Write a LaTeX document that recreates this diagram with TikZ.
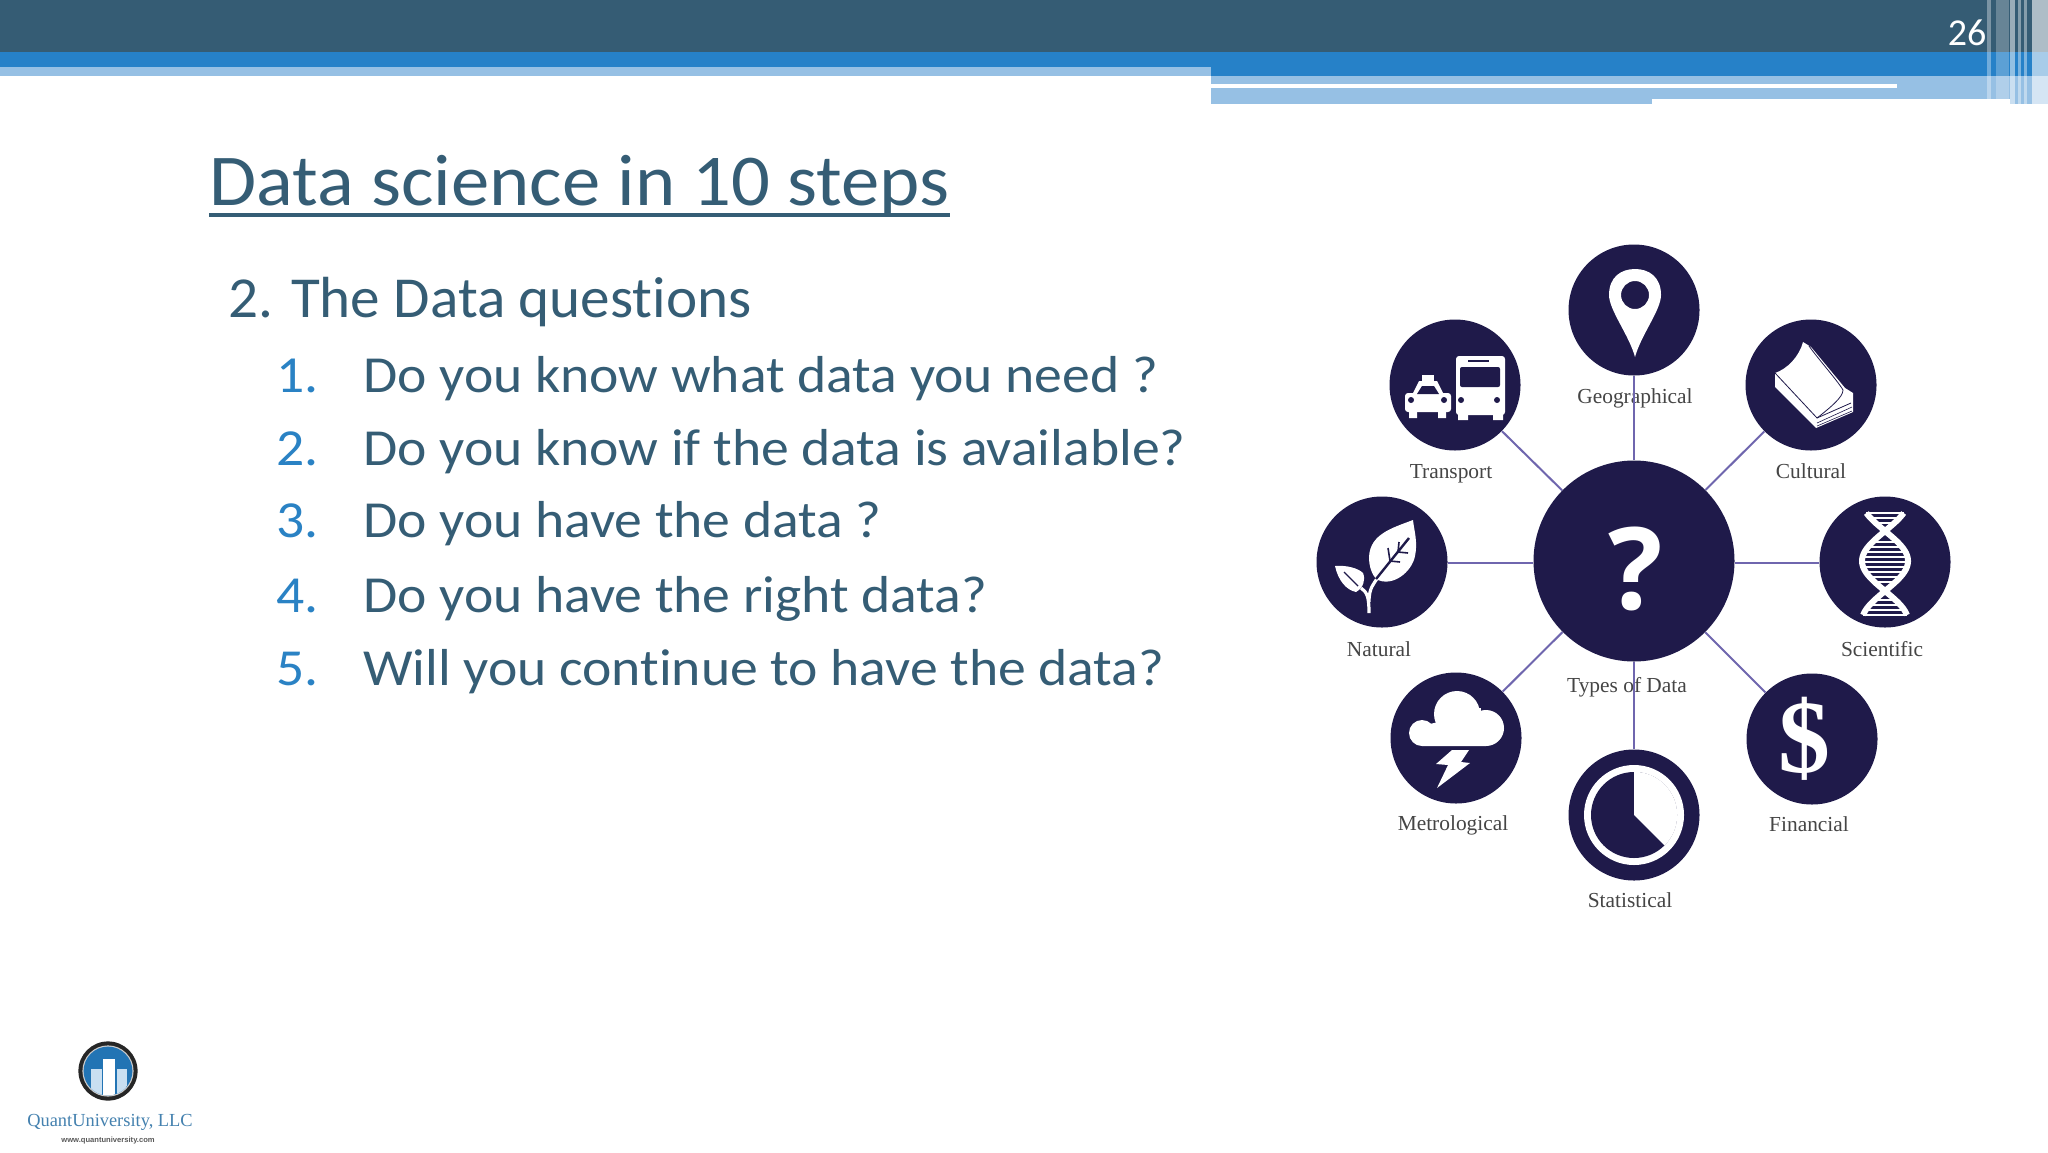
\documentclass[tikz,border=0pt]{standalone}
\usepackage{fontspec}
\setmainfont[Ligatures=NoCommon]{Carlito}
\newfontfamily\titlefont[Ligatures=NoCommon,FakeStretch=1.05]{Carlito}
\newfontfamily\headfont[Ligatures=NoCommon,FakeStretch=1.02]{Carlito}
\newfontfamily\itemfont[Ligatures=NoCommon,FakeStretch=1.07]{Carlito}
\newfontfamily\tnr{Liberation Serif}
\newfontfamily\lsans{Liberation Sans}
\definecolor{hdrdark}{HTML}{355C74}
\definecolor{hdrblue}{HTML}{2681C8}
\definecolor{hdrlight}{HTML}{96C0E4}
\definecolor{slatetxt}{HTML}{355D75}
\definecolor{numblue}{HTML}{2A82C4}
\definecolor{navy}{HTML}{1F1A4A}
\definecolor{spoke}{HTML}{6F66AE}
\definecolor{lblgray}{HTML}{454545}
\tikzset{
  x=0.5pt,y=-0.5pt,
  hub/.style={circle,fill=navy,inner sep=0pt,minimum size=100.5pt},
  sat/.style={circle,fill=navy,inner sep=0pt,minimum size=65.5pt},
  lbl/.style={font=\tnr\fontsize{10.7pt}{12pt}\selectfont,text=lblgray,inner sep=0pt},
  spokeline/.style={draw=spoke,line width=1pt},
  titletxt/.style={anchor=base west,inner sep=0pt,text=slatetxt,font=\titlefont\fontsize{36.5pt}{40pt}\selectfont},
  headtxt/.style={anchor=base west,inner sep=0pt,text=slatetxt,font=\headfont\fontsize{29pt}{32pt}\selectfont},
  itemtxt/.style={anchor=base west,inner sep=0pt,text=slatetxt,font=\itemfont\fontsize{26pt}{30pt}\selectfont},
  itemnum/.style={anchor=base west,inner sep=0pt,text=numblue,font=\itemfont\fontsize{26pt}{30pt}\selectfont},
  strip/.style={fill=white,fill opacity=#1,draw=none},
}
\begin{document}
\begin{tikzpicture}
\useasboundingbox (0,0) rectangle (2048,1152);
\fill[white] (0,0) rectangle (2048,1152);
% header bands
\fill[hdrlight] (1211,76) rectangle (2048,104);
\fill[hdrlight] (0,67) rectangle (1211,76);
\fill[hdrblue] (0,52) rectangle (1211,67);
\fill[hdrblue] (1211,52) rectangle (2048,76);
\fill[hdrdark] (0,0) rectangle (2048,52);
\fill[white] (1211,84) rectangle (1897,88);
\fill[white] (1652,99) rectangle (2010,104);
\fill[strip=0.35] (1987,0) rectangle (1991,104);
\fill[strip=0.25] (1996,0) rectangle (2009,104);
\fill[strip=0.5] (2010,0) rectangle (2015,104);
\fill[strip=0.4] (2018,0) rectangle (2021,104);
\fill[strip=0.4] (2024,0) rectangle (2027,104);
\fill[strip=0.6] (2032,0) rectangle (2048,104);
\node[inner sep=0pt,text=white,font=\fontsize{19pt}{22pt}\selectfont] (pagenum) at (1967,33) {26};
% text
\node[titletxt] (title) at (209,205) {Data science in 10 steps};
\draw[slatetxt,line width=2pt] ([yshift=-5pt]title.base west) -- ([yshift=-5pt]title.base east);
\node[headtxt] (head) at (228,317) {2. The Data questions};
\node[itemnum] (n1) at (276,392) {1.};
\node[itemtxt] (t1) at (363,392) {Do you know what data you need ?};
\node[itemnum] (n2) at (276,465) {2.};
\node[itemtxt] (t2) at (363,465) {Do you know if the data is available?};
\node[itemnum] (n3) at (276,537) {3.};
\node[itemtxt] (t3) at (363,537) {Do you have the data ?};
\node[itemnum] (n4) at (276,612) {4.};
\node[itemtxt] (t4) at (363,612) {Do you have the right data?};
\node[itemnum] (n5) at (276,685) {5.};
\node[itemtxt] (t5) at (363,685) {Will you continue to have the data?};
% wheel
\node[hub] (types) at (1634,561) {};
\node[sat] (geo) at (1634,310) {};
\node[sat] (trans) at (1455,385) {};
\node[sat] (cult) at (1811,385) {};
\node[sat] (nat) at (1382,562) {};
\node[sat] (sci) at (1885,562) {};
\node[sat] (met) at (1456,738) {};
\node[sat] (fin) at (1812,739) {};
\node[sat] (stat) at (1634,815) {};
% labels
\node[lbl] (lgeo) at (1635,398) {Geographical};
\node[lbl] (ltrans) at (1451,474) {Transport};
\node[lbl] (lcult) at (1811,471) {Cultural};
\node[lbl] (lnat) at (1379,649) {Natural};
\node[lbl] (lsci) at (1882,649) {Scientific};
\node[lbl] (ltypes) at (1627,687) {Types of Data};
\node[lbl] (lmet) at (1453,825) {Metrological};
\node[lbl] (lfin) at (1809,824) {Financial};
\node[lbl] (lstat) at (1630,900) {Statistical};
% connectors
\foreach \s in {geo,trans,cult,met,fin,stat}
  \draw[spokeline] (types) -- (\s);
\draw[spokeline] ([yshift=-1.2pt]types.west) -- ([yshift=-0.7pt]nat.east);
\draw[spokeline] ([yshift=-1.2pt]types.east) -- ([yshift=-0.7pt]sci.west);
% question mark
\node[inner sep=0pt,text=white,font=\fontspec{Open Sans Bold}\fontsize{57pt}{57pt}\selectfont] (qm) at (1636,569) {?};
% pin
\begin{scope}[shift={(1635,310)}]
\fill[white,even odd rule] (0,47) .. controls (-6,25) and (-26,0) .. (-26,-15)
  .. controls (-26,-33) and (-14,-41) .. (0,-41)
  .. controls (14,-41) and (26,-33) .. (26,-15)
  .. controls (26,0) and (6,25) .. (0,47) -- cycle
  (0,-15) circle (7pt);
\end{scope}
% taxi and bus
\begin{scope}[shift={(1455,385)}]
\fill[white,rounded corners=1.5pt] (1,-29) rectangle (50,30);
\fill[white] (3,26) rectangle (13,35) (38,26) rectangle (48,35);
\fill[navy,rounded corners=1pt] (5,-18) rectangle (45,2);
\fill[navy] (13,-25) rectangle (34,-23);
\fill[navy] (6,15) circle (1.5pt) (42,15) circle (1.5pt);
\fill[white,rounded corners=1.5pt] (-50,8) rectangle (-4,27);
\fill[white] (-43,10) -- (-36,-4) -- (-18,-4) -- (-11,10) -- cycle;
\fill[white] (-33,-10) rectangle (-21,-3);
\fill[white] (-46,25) rectangle (-38,33) (-17,25) rectangle (-9,33);
\fill[navy] (-38,9) -- (-33,1) -- (-21,1) -- (-16,9) -- cycle;
\fill[navy] (-44,15) circle (1.5pt) (-11,15) circle (1.5pt);
\end{scope}
% book
\begin{scope}[shift={(1811,385)}]
\fill[white] (-36,-12) .. controls (-24,-16) and (-12,-28) .. (-8,-43)
  -- (0,-38) -- (34,3) -- (42,8) -- (42,27) -- (5,43) -- (-36,2) -- cycle;
\draw[navy,line width=0.4pt] (-36,-12) -- (6,33) -- (40,18);
\draw[navy,line width=0.4pt] (-2,-39) .. controls (8,-25) and (26,-5) .. (32,5) .. controls (32,12) and (20,22) .. (6,33);
\draw[navy,line width=0.3pt] (6,38) -- (41,22) (6,41) -- (41,26);
\end{scope}
% leaf
\begin{scope}[shift={(1382,562)}]
\fill[white] (31,-42) .. controls (10,-34) and (-12,-28) .. (-13,-5)
  .. controls (-13,5) and (-10,12) .. (-6,17)
  .. controls (10,26) and (30,10) .. (33,-6)
  .. controls (36,-20) and (32,-32) .. (31,-42) -- cycle;
\fill[white] (-47,4) .. controls (-36,3) and (-24,6) .. (-19,11)
  .. controls (-16,18) and (-19,26) .. (-26,30)
  .. controls (-36,28) and (-44,18) .. (-47,4) -- cycle;
\draw[white,line width=1.6pt] (-13,51) .. controls (-13,35) and (-15,30) .. (-21,26);
\draw[white,line width=1.6pt] (-13,40) .. controls (-13,25) and (-8,22) .. (-4,15);
\draw[navy,line width=1.2pt] (-6,17) -- (27,-24);
\draw[navy,line width=0.8pt] (8,-1) -- (6,-14) (16,-10) -- (17,-20) (8,-1) -- (18,0) (16,-10) -- (26,-9);
\draw[navy,line width=0.7pt] (-24,24) -- (-38,10);
\end{scope}
% dna
\begin{scope}[shift={(1885,562)}]
\draw[white,line width=3pt,domain=-49:53,samples=60,smooth] plot ({23*cos(3*(\x+1))},\x);
\draw[white,line width=3pt,domain=-49:53,samples=60,smooth] plot ({-23*cos(3*(\x+1))},\x);
\foreach \yy in {-49,-44,-39,-20,-15,-10,-5,0,5,10,15,20,38,43,48,53}
  \draw[white,line width=1pt] ({-23*cos(3*(\yy+1))},\yy) -- ({23*cos(3*(\yy+1))},\yy);
\end{scope}
% cloud and lightning
\begin{scope}[shift={(1456,738)}]
\fill[white] (1,-24) circle (11.5pt) (-34,-5) circle (6.5pt) (30,-10) circle (9pt);
\fill[white] (-34,-12) -- (30,-28) -- (30,8) -- (-34,8) -- cycle;
\fill[white] (-20,-30) rectangle (25,8);
\fill[white] (-4,12) -- (13,12) -- (5,24) -- (14,25) -- (-19,50) -- (-8,27) -- (-20,26) -- cycle;
\end{scope}
% dollar
\node[inner sep=0pt,text=white,font=\tnr\bfseries\fontsize{52pt}{52pt}\selectfont] (dollar) at (1804,739) {\$};
% clock
\begin{scope}[shift={(1634,815)}]
\fill[white] (0,0) circle (25pt);
\fill[navy] (0,0) circle (21.5pt);
\begin{scope}
\clip (0,0) circle (21.6pt);
\fill[white] (0,0) -- (0,-60) -- (60,-60) -- (60,60) -- cycle;
\end{scope}
\end{scope}
% logo
\fill[black!85] (108,1071) circle (14.8pt);
\fill[white!80!black] (108,1071) circle (12.8pt);
\fill[hdrblue!90!black] (108,1071) circle (12.2pt);
\begin{scope}
\clip (108,1071) circle (12.2pt);
\fill[white!75!hdrblue] (91,1069) rectangle (102,1100);
\fill[white] (103,1059) rectangle (115,1100);
\fill[white!75!hdrblue] (117,1069) rectangle (127,1100);
\end{scope}
\node[inner sep=0pt,text=numblue!70!gray,font=\tnr\fontsize{9.2pt}{11pt}\selectfont] (qu) at (110,1122) {QuantUniversity, LLC};
\node[inner sep=0pt,text=black!65,font=\lsans\bfseries\fontsize{3.8pt}{5pt}\selectfont] (web) at (108,1141) {www.quantuniversity.com};
\end{tikzpicture}
\end{document}
